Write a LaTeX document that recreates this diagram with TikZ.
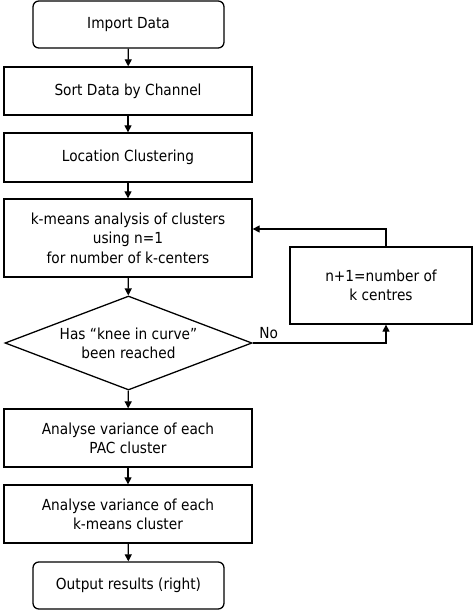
\documentclass[tikz,border=0pt]{standalone}
\usepackage{fontspec}
\setmainfont{DejaVu Sans}[FakeStretch=0.9]
\usetikzlibrary{shapes.geometric,arrows.meta}

\begin{document}
\begin{tikzpicture}[x=0.03cm, y=-0.03cm, line width=1.1pt,
		font=\fontsize{13}{16.5}\selectfont,
		proc/.style={draw, align=center, minimum width=7.44cm, inner sep=2pt},
		term/.style={draw, rounded corners=5pt, minimum width=5.73cm, minimum height=1.41cm},
		decide/.style={draw, diamond, align=center, inner sep=0pt, shape aspect=2.63, minimum width=7.41cm, minimum height=2.82cm},
		arr/.style={-{Triangle[length=6pt,width=6pt]}}]
			\useasboundingbox (0,0) rectangle (474,612);
			
			%main column
			\node[term] (imp) at (128.5, 24.5) {Import Data};
			\node[proc, minimum height=1.44cm] (sort) at (128, 91) {Sort Data by Channel};
			\node[proc, minimum height=1.47cm] (loc) at (128, 157.5) {Location Clustering};
			\node[proc, minimum height=2.34cm] (kmeans) at (128, 238) {k-means analysis of clusters\\using n=1\\for number of k-centers};
			\node[decide] (knee) at (128.5, 343) {Has “knee in curve”\\been reached};
			\node[proc, minimum height=1.74cm] (pac) at (128, 438) {Analyse variance of each\\PAC cluster};
			\node[proc, minimum height=1.74cm] (kvar) at (128, 514) {Analyse variance of each\\k-means cluster};
			\node[term] (out) at (128.5, 585.5) {Output results (right)};
			
			%loop box
			\node[proc, minimum width=5.46cm, minimum height=2.31cm] (nplus) at (381, 285.5) {n+1=number of\\k centres};
			
			\draw[arr] (imp) -- (sort);
			\draw[arr] (sort) -- (loc);
			\draw[arr] (loc) -- (kmeans);
			\draw[arr] (kmeans) -- (knee);
			\draw[arr] (knee) -- (pac);
			\draw[arr] (pac) -- (kvar);
			\draw[arr] (kvar) -- (out);
			
			\draw[arr] (knee.east) -| node[pos=0.06, above] {No} ([xshift=0.15cm]nplus.south);
			\draw[arr] ([xshift=0.15cm]nplus.north) |- ([yshift=0.27cm]kmeans.east);
		\end{tikzpicture}
\end{document}
